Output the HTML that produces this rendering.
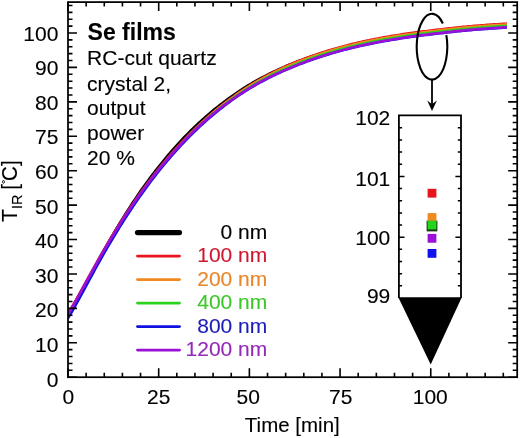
<!DOCTYPE html>
<html><head><meta charset="utf-8"><title>Se films T_IR vs time</title>
<style>html,body{margin:0;padding:0;background:#fff;width:520px;height:438px;overflow:hidden}svg{filter:blur(0.35px)}</style>
</head><body>
<svg width="520" height="438" viewBox="0 0 520 438" style="display:block">
<rect width="520" height="438" fill="#fff"/>
<defs><clipPath id="pc"><rect x="68.0" y="2.1" width="449.20000000000005" height="375.09999999999997"/></clipPath></defs>
<g clip-path="url(#pc)" fill="none" stroke-width="2.2" stroke-linejoin="round" stroke-linecap="butt">
<polyline stroke="#000000" stroke-width="2.2" points="68.00,315.38 69.81,312.49 71.63,309.42 73.44,306.23 75.25,302.98 77.07,299.68 78.88,296.34 80.70,292.98 82.51,289.61 84.32,286.23 86.14,282.85 87.95,279.42 89.77,276.00 91.58,272.59 93.39,269.19 95.21,265.80 97.02,262.44 98.83,259.09 100.65,255.76 102.46,252.45 104.28,249.17 106.09,245.98 107.90,242.81 109.72,239.68 111.53,236.56 113.34,233.48 115.16,230.42 116.97,227.39 118.78,224.39 120.60,221.42 122.41,218.48 124.23,215.57 126.04,212.69 127.85,209.84 129.67,207.01 131.48,204.22 133.30,201.46 135.11,198.74 136.92,196.04 138.74,193.37 140.55,190.73 142.36,188.16 144.18,185.61 145.99,183.10 147.81,180.61 149.62,178.16 151.43,175.73 153.25,173.34 155.06,170.98 156.87,168.64 158.69,166.34 160.50,164.06 162.31,161.82 164.13,159.60 165.94,157.41 167.76,155.25 169.57,153.12 171.38,151.02 173.20,148.94 175.01,146.90 176.82,144.88 178.64,142.90 180.45,140.95 182.27,139.03 184.08,137.13 185.89,135.26 187.71,133.42 189.52,131.60 191.33,129.81 193.15,128.04 194.96,126.30 196.78,124.59 198.59,122.89 200.40,121.23 202.22,119.58 204.03,117.96 205.84,116.36 207.66,114.79 209.47,113.24 211.29,111.71 213.10,110.21 214.91,108.72 216.73,107.26 218.54,105.82 220.35,104.41 222.17,103.01 223.98,101.63 225.80,100.28 227.61,98.94 229.42,97.63 231.24,96.33 233.05,95.06 234.87,93.80 236.68,92.56 238.49,91.34 240.31,90.13 242.12,88.95 243.93,87.79 245.75,86.64 247.56,85.51 249.38,84.40 251.19,83.33 253.00,82.29 254.82,81.26 256.63,80.24 258.44,79.25 260.26,78.27 262.07,77.30 263.88,76.35 265.70,75.42 267.51,74.50 269.33,73.60 271.14,72.71 272.95,71.84 274.77,70.98 276.58,70.13 278.39,69.30 280.21,68.49 282.02,67.68 283.84,66.89 285.65,66.12 287.46,65.37 289.28,64.64 291.09,63.92 292.90,63.22 294.72,62.49 296.53,61.78 298.35,61.08 300.16,60.39 301.97,59.71 303.79,59.04 305.60,58.39 307.41,57.74 309.23,57.11 311.04,56.49 312.86,55.88 314.67,55.27 316.48,54.68 318.30,54.10 320.11,53.53 321.92,52.97 323.74,52.42 325.55,51.88 327.37,51.35 329.18,50.82 330.99,50.31 332.81,49.80 334.62,49.31 336.44,48.82 338.25,48.34 340.06,47.87 341.88,47.41 343.69,46.95 345.50,46.51 347.32,46.07 349.13,45.64 350.94,45.22 352.76,44.80 354.57,44.40 356.39,44.00 358.20,43.60 360.01,43.21 361.83,42.83 363.64,42.45 365.45,42.08 367.27,41.71 369.08,41.35 370.90,41.00 372.71,40.65 374.52,40.32 376.34,39.98 378.15,39.66 379.96,39.33 381.78,39.02 383.59,38.71 385.41,38.40 387.22,38.11 389.03,37.81 390.85,37.53 392.66,37.24 394.48,36.97 396.29,36.70 398.10,36.43 399.92,36.17 401.73,35.91 403.54,35.66 405.36,35.41 407.17,35.17 408.99,34.93 410.80,34.70 412.61,34.47 414.43,34.24 416.24,34.02 418.05,33.81 419.87,33.59 421.68,33.39 423.50,33.18 425.31,32.98 427.12,32.78 428.94,32.59 430.75,32.40 432.56,32.17 434.38,31.95 436.19,31.72 438.00,31.50 439.82,31.28 441.63,31.07 443.45,30.86 445.26,30.65 447.07,30.45 448.89,30.25 450.70,30.05 452.51,29.86 454.33,29.67 456.14,29.48 457.96,29.29 459.77,29.11 461.58,28.93 463.40,28.75 465.21,28.58 467.02,28.41 468.84,28.24 470.65,28.07 472.47,27.91 474.28,27.75 476.09,27.60 477.91,27.46 479.72,27.32 481.53,27.19 483.35,27.05 485.16,26.92 486.98,26.79 488.79,26.66 490.60,26.53 492.42,26.41 494.23,26.29 496.05,26.17 497.86,26.05 499.67,25.94 501.49,25.82 503.30,25.71 505.11,25.60 506.93,25.49"/>
<polyline stroke="#e8141c" stroke-width="2.2" points="68.00,312.97 69.81,310.15 71.63,307.14 73.44,304.03 75.25,300.85 77.07,297.61 78.88,294.35 80.70,291.06 82.51,287.75 84.32,284.44 86.14,281.13 87.95,277.84 89.77,274.56 91.58,271.28 93.39,268.02 95.21,264.77 97.02,261.54 98.83,258.33 100.65,255.14 102.46,251.97 104.28,248.83 106.09,245.74 107.90,242.68 109.72,239.64 111.53,236.63 113.34,233.65 115.16,230.70 116.97,227.77 118.78,224.87 120.60,222.01 122.41,219.17 124.23,216.36 126.04,213.58 127.85,210.83 129.67,208.12 131.48,205.43 133.30,202.77 135.11,200.15 136.92,197.55 138.74,194.99 140.55,192.45 142.36,189.91 144.18,187.40 145.99,184.92 147.81,182.47 149.62,180.05 151.43,177.66 153.25,175.30 155.06,172.97 156.87,170.67 158.69,168.40 160.50,166.16 162.31,163.95 164.13,161.77 165.94,159.61 167.76,157.49 169.57,155.39 171.38,153.32 173.20,151.28 175.01,149.27 176.82,147.29 178.64,145.28 180.45,143.30 182.27,141.35 184.08,139.43 185.89,137.53 187.71,135.66 189.52,133.81 191.33,131.99 193.15,130.20 194.96,128.43 196.78,126.68 198.59,124.96 200.40,123.26 202.22,121.59 204.03,119.94 205.84,118.32 207.66,116.71 209.47,115.13 211.29,113.58 213.10,112.04 214.91,110.53 216.73,109.04 218.54,107.57 220.35,106.13 222.17,104.70 223.98,103.30 225.80,101.91 227.61,100.55 229.42,99.21 231.24,97.88 233.05,96.55 234.87,95.24 236.68,93.95 238.49,92.68 240.31,91.43 242.12,90.19 243.93,88.97 245.75,87.77 247.56,86.59 249.38,85.43 251.19,84.31 253.00,83.22 254.82,82.14 256.63,81.07 258.44,80.02 260.26,78.99 262.07,77.97 263.88,76.97 265.70,75.99 267.51,75.02 269.33,74.06 271.14,73.13 272.95,72.20 274.77,71.29 276.58,70.39 278.39,69.51 280.21,68.64 282.02,67.79 283.84,66.94 285.65,66.12 287.46,65.34 289.28,64.58 291.09,63.83 292.90,63.10 294.72,62.34 296.53,61.60 298.35,60.87 300.16,60.15 301.97,59.44 303.79,58.74 305.60,58.06 307.41,57.38 309.23,56.72 311.04,56.07 312.86,55.42 314.67,54.79 316.48,54.17 318.30,53.56 320.11,52.96 321.92,52.37 323.74,51.79 325.55,51.22 327.37,50.65 329.18,50.10 330.99,49.56 332.81,49.02 334.62,48.49 336.44,47.98 338.25,47.47 340.06,46.97 341.88,46.47 343.69,45.99 345.50,45.51 347.32,45.05 349.13,44.59 350.94,44.13 352.76,43.69 354.57,43.25 356.39,42.82 358.20,42.40 360.01,41.98 361.83,41.58 363.64,41.18 365.45,40.78 367.27,40.40 369.08,40.02 370.90,39.64 372.71,39.28 374.52,38.92 376.34,38.56 378.15,38.21 379.96,37.87 381.78,37.53 383.59,37.20 385.41,36.88 387.22,36.56 389.03,36.24 390.85,35.93 392.66,35.63 394.48,35.33 396.29,35.04 398.10,34.75 399.92,34.47 401.73,34.19 403.54,33.92 405.36,33.65 407.17,33.38 408.99,33.12 410.80,32.87 412.61,32.62 414.43,32.37 416.24,32.13 418.05,31.89 419.87,31.66 421.68,31.43 423.50,31.20 425.31,30.98 427.12,30.76 428.94,30.55 430.75,30.34 432.56,30.11 434.38,29.88 436.19,29.66 438.00,29.44 439.82,29.22 441.63,29.01 443.45,28.80 445.26,28.59 447.07,28.39 448.89,28.19 450.70,27.99 452.51,27.79 454.33,27.60 456.14,27.41 457.96,27.23 459.77,27.05 461.58,26.87 463.40,26.69 465.21,26.52 467.02,26.34 468.84,26.17 470.65,26.01 472.47,25.84 474.28,25.68 476.09,25.54 477.91,25.40 479.72,25.26 481.53,25.12 483.35,24.99 485.16,24.85 486.98,24.72 488.79,24.60 490.60,24.47 492.42,24.35 494.23,24.22 496.05,24.10 497.86,23.99 499.67,23.87 501.49,23.76 503.30,23.64 505.11,23.53 506.93,23.43"/>
<polyline stroke="#f08a1e" stroke-width="2.2" points="68.00,314.69 69.81,311.87 71.63,308.87 73.44,305.75 75.25,302.57 77.07,299.33 78.88,296.07 80.70,292.78 82.51,289.47 84.32,286.16 86.14,282.85 87.95,279.53 89.77,276.21 91.58,272.90 93.39,269.60 95.21,266.32 97.02,263.06 98.83,259.81 100.65,256.59 102.46,253.38 104.28,250.20 106.09,247.10 107.90,244.02 109.72,240.97 111.53,237.94 113.34,234.94 115.16,231.97 116.97,229.03 118.78,226.11 120.60,223.23 122.41,220.37 124.23,217.55 126.04,214.75 127.85,211.99 129.67,209.25 131.48,206.55 133.30,203.87 135.11,201.23 136.92,198.62 138.74,196.04 140.55,193.49 142.36,190.94 144.18,188.43 145.99,185.95 147.81,183.50 149.62,181.08 151.43,178.69 153.25,176.33 155.06,174.00 156.87,171.70 158.69,169.43 160.50,167.19 162.31,164.98 164.13,162.80 165.94,160.65 167.76,158.52 169.57,156.42 171.38,154.36 173.20,152.32 175.01,150.30 176.82,148.32 178.64,146.30 180.45,144.30 182.27,142.33 184.08,140.39 185.89,138.48 187.71,136.59 189.52,134.72 191.33,132.89 193.15,131.07 194.96,129.29 196.78,127.52 198.59,125.78 200.40,124.07 202.22,122.38 204.03,120.72 205.84,119.07 207.66,117.45 209.47,115.86 211.29,114.28 213.10,112.73 214.91,111.20 216.73,109.70 218.54,108.21 220.35,106.75 222.17,105.30 223.98,103.88 225.80,102.48 227.61,101.10 229.42,99.74 231.24,98.40 233.05,97.08 234.87,95.78 236.68,94.50 238.49,93.24 240.31,92.00 242.12,90.78 243.93,89.57 245.75,88.38 247.56,87.21 249.38,86.06 251.19,84.96 253.00,83.87 254.82,82.80 256.63,81.75 258.44,80.71 260.26,79.69 262.07,78.69 263.88,77.70 265.70,76.72 267.51,75.77 269.33,74.82 271.14,73.89 272.95,72.98 274.77,72.08 276.58,71.20 278.39,70.32 280.21,69.47 282.02,68.62 283.84,67.79 285.65,66.98 287.46,66.20 289.28,65.44 291.09,64.69 292.90,63.96 294.72,63.20 296.53,62.46 298.35,61.73 300.16,61.01 301.97,60.30 303.79,59.60 305.60,58.92 307.41,58.24 309.23,57.58 311.04,56.93 312.86,56.28 314.67,55.65 316.48,55.03 318.30,54.42 320.11,53.82 321.92,53.23 323.74,52.65 325.55,52.08 327.37,51.51 329.18,50.96 330.99,50.42 332.81,49.88 334.62,49.35 336.44,48.84 338.25,48.33 340.06,47.83 341.88,47.34 343.69,46.85 345.50,46.38 347.32,45.91 349.13,45.45 350.94,44.99 352.76,44.55 354.57,44.11 356.39,43.68 358.20,43.26 360.01,42.85 361.83,42.44 363.64,42.04 365.45,41.65 367.27,41.26 369.08,40.88 370.90,40.51 372.71,40.14 374.52,39.78 376.34,39.42 378.15,39.07 379.96,38.73 381.78,38.39 383.59,38.06 385.41,37.74 387.22,37.42 389.03,37.10 390.85,36.79 392.66,36.49 394.48,36.19 396.29,35.90 398.10,35.61 399.92,35.33 401.73,35.05 403.54,34.78 405.36,34.51 407.17,34.24 408.99,33.98 410.80,33.73 412.61,33.48 414.43,33.23 416.24,32.99 418.05,32.75 419.87,32.52 421.68,32.29 423.50,32.06 425.31,31.84 427.12,31.62 428.94,31.41 430.75,31.20 432.56,30.97 434.38,30.74 436.19,30.52 438.00,30.30 439.82,30.08 441.63,29.87 443.45,29.66 445.26,29.45 447.07,29.25 448.89,29.05 450.70,28.85 452.51,28.65 454.33,28.46 456.14,28.27 457.96,28.09 459.77,27.91 461.58,27.73 463.40,27.55 465.21,27.38 467.02,27.20 468.84,27.04 470.65,26.87 472.47,26.70 474.28,26.54 476.09,26.40 477.91,26.26 479.72,26.12 481.53,25.98 483.35,25.85 485.16,25.71 486.98,25.58 488.79,25.46 490.60,25.33 492.42,25.21 494.23,25.08 496.05,24.96 497.86,24.85 499.67,24.73 501.49,24.62 503.30,24.50 505.11,24.39 506.93,24.29"/>
<polyline stroke="#2ed21e" stroke-width="2.2" points="68.00,314.69 69.81,311.87 71.63,308.87 73.44,305.75 75.25,302.57 77.07,299.33 78.88,296.07 80.70,292.78 82.51,289.47 84.32,286.16 86.14,282.85 87.95,279.53 89.77,276.21 91.58,272.90 93.39,269.60 95.21,266.32 97.02,263.06 98.83,259.81 100.65,256.59 102.46,253.38 104.28,250.20 106.09,247.12 107.90,244.05 109.72,241.02 111.53,238.01 113.34,235.03 115.16,232.07 116.97,229.15 118.78,226.25 120.60,223.38 122.41,220.54 124.23,217.74 126.04,214.96 127.85,212.21 129.67,209.49 131.48,206.81 133.30,204.15 135.11,201.52 136.92,198.93 138.74,196.36 140.55,193.83 142.36,191.29 144.18,188.78 145.99,186.30 147.81,183.85 149.62,181.43 151.43,179.04 153.25,176.68 155.06,174.35 156.87,172.05 158.69,169.78 160.50,167.54 162.31,165.33 164.13,163.14 165.94,160.99 167.76,158.87 169.57,156.77 171.38,154.70 173.20,152.66 175.01,150.65 176.82,148.66 178.64,146.66 180.45,144.68 182.27,142.73 184.08,140.80 185.89,138.91 187.71,137.03 189.52,135.19 191.33,133.37 193.15,131.57 194.96,129.80 196.78,128.06 198.59,126.34 200.40,124.64 202.22,122.97 204.03,121.32 205.84,119.69 207.66,118.09 209.47,116.51 211.29,114.95 213.10,113.42 214.91,111.91 216.73,110.42 218.54,108.95 220.35,107.50 222.17,106.08 223.98,104.67 225.80,103.29 227.61,101.93 229.42,100.58 231.24,99.26 233.05,97.95 234.87,96.67 236.68,95.40 238.49,94.15 240.31,92.92 242.12,91.70 243.93,90.51 245.75,89.33 247.56,88.18 249.38,87.04 251.19,85.94 253.00,84.87 254.82,83.81 256.63,82.77 258.44,81.74 260.26,80.73 262.07,79.74 263.88,78.76 265.70,77.80 267.51,76.86 269.33,75.92 271.14,75.01 272.95,74.10 274.77,73.22 276.58,72.34 278.39,71.48 280.21,70.64 282.02,69.81 283.84,68.99 285.65,68.18 287.46,67.41 289.28,66.65 291.09,65.91 292.90,65.18 294.72,64.43 296.53,63.69 298.35,62.96 300.16,62.25 301.97,61.54 303.79,60.85 305.60,60.17 307.41,59.50 309.23,58.84 311.04,58.19 312.86,57.55 314.67,56.93 316.48,56.31 318.30,55.70 320.11,55.11 321.92,54.52 323.74,53.94 325.55,53.37 327.37,52.82 329.18,52.27 330.99,51.73 332.81,51.20 334.62,50.68 336.44,50.16 338.25,49.66 340.06,49.16 341.88,48.67 343.69,48.19 345.50,47.72 347.32,47.26 349.13,46.80 350.94,46.35 352.76,45.91 354.57,45.48 356.39,45.05 358.20,44.64 360.01,44.22 361.83,43.82 363.64,43.42 365.45,43.02 367.27,42.64 369.08,42.26 370.90,41.88 372.71,41.52 374.52,41.15 376.34,40.80 378.15,40.45 379.96,40.11 381.78,39.77 383.59,39.44 385.41,39.11 387.22,38.80 389.03,38.48 390.85,38.17 392.66,37.87 394.48,37.57 396.29,37.28 398.10,36.99 399.92,36.70 401.73,36.43 403.54,36.15 405.36,35.88 407.17,35.62 408.99,35.36 410.80,35.11 412.61,34.85 414.43,34.61 416.24,34.37 418.05,34.13 419.87,33.89 421.68,33.67 423.50,33.44 425.31,33.22 427.12,33.00 428.94,32.79 430.75,32.58 432.56,32.34 434.38,32.12 436.19,31.89 438.00,31.67 439.82,31.46 441.63,31.24 443.45,31.03 445.26,30.83 447.07,30.62 448.89,30.42 450.70,30.23 452.51,30.03 454.33,29.84 456.14,29.65 457.96,29.47 459.77,29.28 461.58,29.10 463.40,28.93 465.21,28.75 467.02,28.58 468.84,28.41 470.65,28.25 472.47,28.08 474.28,27.92 476.09,27.78 477.91,27.63 479.72,27.50 481.53,27.36 483.35,27.22 485.16,27.09 486.98,26.96 488.79,26.83 490.60,26.71 492.42,26.58 494.23,26.46 496.05,26.34 497.86,26.22 499.67,26.11 501.49,25.99 503.30,25.88 505.11,25.77 506.93,25.66"/>
<polyline stroke="#1010e0" stroke-width="2.2" points="68.00,318.47 69.81,315.62 71.63,312.58 73.44,309.43 75.25,306.22 77.07,302.95 78.88,299.65 80.70,296.32 82.51,292.99 84.32,289.64 86.14,286.30 87.95,282.93 89.77,279.58 91.58,276.24 93.39,272.91 95.21,269.59 97.02,266.29 98.83,263.01 100.65,259.75 102.46,256.51 104.28,253.30 106.09,250.16 107.90,247.05 109.72,243.96 111.53,240.90 113.34,237.87 115.16,234.86 116.97,231.88 118.78,228.93 120.60,226.02 122.41,223.13 124.23,220.27 126.04,217.44 127.85,214.64 129.67,211.87 131.48,209.13 133.30,206.42 135.11,203.74 136.92,201.10 138.74,198.48 140.55,195.90 142.36,193.33 144.18,190.79 145.99,188.29 147.81,185.81 149.62,183.36 151.43,180.95 153.25,178.56 155.06,176.21 156.87,173.88 158.69,171.59 160.50,169.32 162.31,167.08 164.13,164.87 165.94,162.69 167.76,160.54 169.57,158.42 171.38,156.33 173.20,154.26 175.01,152.22 176.82,150.21 178.64,148.21 180.45,146.24 182.27,144.30 184.08,142.38 185.89,140.48 187.71,138.62 189.52,136.78 191.33,134.96 193.15,133.17 194.96,131.41 196.78,129.67 198.59,127.95 200.40,126.26 202.22,124.60 204.03,122.95 205.84,121.33 207.66,119.74 209.47,118.16 211.29,116.61 213.10,115.08 214.91,113.58 216.73,112.09 218.54,110.63 220.35,109.19 222.17,107.77 223.98,106.37 225.80,104.99 227.61,103.64 229.42,102.30 231.24,100.98 233.05,99.68 234.87,98.41 236.68,97.15 238.49,95.91 240.31,94.70 242.12,93.49 243.93,92.31 245.75,91.15 247.56,90.00 249.38,88.87 251.19,87.79 253.00,86.73 254.82,85.68 256.63,84.65 258.44,83.64 260.26,82.64 262.07,81.66 263.88,80.69 265.70,79.74 267.51,78.81 269.33,77.89 271.14,76.98 272.95,76.09 274.77,75.21 276.58,74.35 278.39,73.50 280.21,72.67 282.02,71.85 283.84,71.04 285.65,70.25 287.46,69.48 289.28,68.72 291.09,67.98 292.90,67.24 294.72,66.49 296.53,65.75 298.35,65.03 300.16,64.31 301.97,63.61 303.79,62.91 305.60,62.23 307.41,61.56 309.23,60.90 311.04,60.26 312.86,59.62 314.67,58.99 316.48,58.37 318.30,57.77 320.11,57.17 321.92,56.58 323.74,56.01 325.55,55.44 327.37,54.88 329.18,54.33 330.99,53.79 332.81,53.26 334.62,52.74 336.44,52.23 338.25,51.72 340.06,51.23 341.88,50.74 343.69,50.26 345.50,49.79 347.32,49.32 349.13,48.87 350.94,48.42 352.76,47.98 354.57,47.55 356.39,47.12 358.20,46.70 360.01,46.29 361.83,45.88 363.64,45.48 365.45,45.09 367.27,44.70 369.08,44.32 370.90,43.95 372.71,43.58 374.52,43.22 376.34,42.86 378.15,42.52 379.96,42.17 381.78,41.84 383.59,41.51 385.41,41.18 387.22,40.86 389.03,40.55 390.85,40.24 392.66,39.93 394.48,39.63 396.29,39.34 398.10,39.05 399.92,38.77 401.73,38.49 403.54,38.22 405.36,37.95 407.17,37.69 408.99,37.43 410.80,37.17 412.61,36.92 414.43,36.67 416.24,36.43 418.05,36.19 419.87,35.96 421.68,35.73 423.50,35.50 425.31,35.28 427.12,35.07 428.94,34.85 430.75,34.64 432.56,34.41 434.38,34.18 436.19,33.96 438.00,33.74 439.82,33.52 441.63,33.31 443.45,33.10 445.26,32.89 447.07,32.69 448.89,32.49 450.70,32.29 452.51,32.10 454.33,31.90 456.14,31.72 457.96,31.53 459.77,31.35 461.58,31.17 463.40,30.99 465.21,30.82 467.02,30.65 468.84,30.48 470.65,30.31 472.47,30.15 474.28,29.99 476.09,29.84 477.91,29.70 479.72,29.56 481.53,29.42 483.35,29.29 485.16,29.16 486.98,29.03 488.79,28.90 490.60,28.77 492.42,28.65 494.23,28.53 496.05,28.41 497.86,28.29 499.67,28.17 501.49,28.06 503.30,27.95 505.11,27.84 506.93,27.73"/>
<polyline stroke="#9a10d8" stroke-width="2.7" points="68.00,314.00 69.81,311.18 71.63,308.18 73.44,305.06 75.25,301.88 77.07,298.65 78.88,295.38 80.70,292.09 82.51,288.79 84.32,285.48 86.14,282.16 87.95,278.87 89.77,275.59 91.58,272.31 93.39,269.05 95.21,265.80 97.02,262.57 98.83,259.36 100.65,256.17 102.46,253.00 104.28,249.86 106.09,246.77 107.90,243.71 109.72,240.67 111.53,237.66 113.34,234.68 115.16,231.73 116.97,228.80 118.78,225.91 120.60,223.04 122.41,220.20 124.23,217.39 126.04,214.61 127.85,211.87 129.67,209.15 131.48,206.46 133.30,203.81 135.11,201.18 136.92,198.58 138.74,196.02 140.55,193.49 142.36,190.96 144.18,188.47 145.99,186.00 147.81,183.57 149.62,181.17 151.43,178.80 153.25,176.45 155.06,174.14 156.87,171.86 158.69,169.61 160.50,167.38 162.31,165.19 164.13,163.02 165.94,160.89 167.76,158.78 169.57,156.70 171.38,154.65 173.20,152.63 175.01,150.63 176.82,148.66 178.64,146.69 180.45,144.74 182.27,142.81 184.08,140.92 185.89,139.05 187.71,137.21 189.52,135.39 191.33,133.60 193.15,131.83 194.96,130.09 196.78,128.37 198.59,126.68 200.40,125.01 202.22,123.37 204.03,121.75 205.84,120.15 207.66,118.58 209.47,117.03 211.29,115.50 213.10,113.99 214.91,112.51 216.73,111.05 218.54,109.61 220.35,108.19 222.17,106.80 223.98,105.42 225.80,104.06 227.61,102.73 229.42,101.41 231.24,100.12 233.05,98.84 234.87,97.57 236.68,96.33 238.49,95.10 240.31,93.89 242.12,92.70 243.93,91.53 245.75,90.38 247.56,89.24 249.38,88.13 251.19,87.06 253.00,86.00 254.82,84.97 256.63,83.95 258.44,82.95 260.26,81.96 262.07,80.99 263.88,80.04 265.70,79.10 267.51,78.17 269.33,77.27 271.14,76.37 272.95,75.49 274.77,74.63 276.58,73.78 278.39,72.94 280.21,72.12 282.02,71.31 283.84,70.51 285.65,69.73 287.46,68.96 289.28,68.20 291.09,67.46 292.90,66.73 294.72,65.98 296.53,65.24 298.35,64.51 300.16,63.79 301.97,63.09 303.79,62.40 305.60,61.72 307.41,61.05 309.23,60.39 311.04,59.74 312.86,59.10 314.67,58.48 316.48,57.86 318.30,57.25 320.11,56.66 321.92,56.07 323.74,55.49 325.55,54.92 327.37,54.37 329.18,53.82 330.99,53.28 332.81,52.75 334.62,52.22 336.44,51.71 338.25,51.21 340.06,50.71 341.88,50.22 343.69,49.74 345.50,49.27 347.32,48.81 349.13,48.35 350.94,47.90 352.76,47.46 354.57,47.03 356.39,46.60 358.20,46.18 360.01,45.77 361.83,45.36 363.64,44.96 365.45,44.57 367.27,44.18 369.08,43.80 370.90,43.43 372.71,43.06 374.52,42.70 376.34,42.35 378.15,42.00 379.96,41.66 381.78,41.32 383.59,40.99 385.41,40.66 387.22,40.34 389.03,40.03 390.85,39.72 392.66,39.42 394.48,39.12 396.29,38.83 398.10,38.54 399.92,38.25 401.73,37.98 403.54,37.70 405.36,37.43 407.17,37.17 408.99,36.91 410.80,36.65 412.61,36.40 414.43,36.16 416.24,35.92 418.05,35.68 419.87,35.44 421.68,35.21 423.50,34.99 425.31,34.77 427.12,34.55 428.94,34.33 430.75,34.12 432.56,33.89 434.38,33.67 436.19,33.44 438.00,33.22 439.82,33.01 441.63,32.79 443.45,32.58 445.26,32.38 447.07,32.17 448.89,31.97 450.70,31.77 452.51,31.58 454.33,31.39 456.14,31.20 457.96,31.01 459.77,30.83 461.58,30.65 463.40,30.48 465.21,30.30 467.02,30.13 468.84,29.96 470.65,29.79 472.47,29.63 474.28,29.47 476.09,29.33 477.91,29.18 479.72,29.04 481.53,28.91 483.35,28.77 485.16,28.64 486.98,28.51 488.79,28.38 490.60,28.26 492.42,28.13 494.23,28.01 496.05,27.89 497.86,27.77 499.67,27.66 501.49,27.54 503.30,27.43 505.11,27.32 506.93,27.21"/>
</g>
<path d="M68.0,377.20h9M517.2,377.20h-9M68.0,370.32h4.5M517.2,370.32h-4.5M68.0,363.43h4.5M517.2,363.43h-4.5M68.0,356.55h4.5M517.2,356.55h-4.5M68.0,349.66h4.5M517.2,349.66h-4.5M68.0,342.78h9M517.2,342.78h-9M68.0,335.90h4.5M517.2,335.90h-4.5M68.0,329.01h4.5M517.2,329.01h-4.5M68.0,322.13h4.5M517.2,322.13h-4.5M68.0,315.24h4.5M517.2,315.24h-4.5M68.0,308.36h9M517.2,308.36h-9M68.0,301.48h4.5M517.2,301.48h-4.5M68.0,294.59h4.5M517.2,294.59h-4.5M68.0,287.71h4.5M517.2,287.71h-4.5M68.0,280.82h4.5M517.2,280.82h-4.5M68.0,273.94h9M517.2,273.94h-9M68.0,267.06h4.5M517.2,267.06h-4.5M68.0,260.17h4.5M517.2,260.17h-4.5M68.0,253.29h4.5M517.2,253.29h-4.5M68.0,246.40h4.5M517.2,246.40h-4.5M68.0,239.52h9M517.2,239.52h-9M68.0,232.64h4.5M517.2,232.64h-4.5M68.0,225.75h4.5M517.2,225.75h-4.5M68.0,218.87h4.5M517.2,218.87h-4.5M68.0,211.98h4.5M517.2,211.98h-4.5M68.0,205.10h9M517.2,205.10h-9M68.0,198.22h4.5M517.2,198.22h-4.5M68.0,191.33h4.5M517.2,191.33h-4.5M68.0,184.45h4.5M517.2,184.45h-4.5M68.0,177.56h4.5M517.2,177.56h-4.5M68.0,170.68h9M517.2,170.68h-9M68.0,163.80h4.5M517.2,163.80h-4.5M68.0,156.91h4.5M517.2,156.91h-4.5M68.0,150.03h4.5M517.2,150.03h-4.5M68.0,143.14h4.5M517.2,143.14h-4.5M68.0,136.26h9M517.2,136.26h-9M68.0,129.38h4.5M517.2,129.38h-4.5M68.0,122.49h4.5M517.2,122.49h-4.5M68.0,115.61h4.5M517.2,115.61h-4.5M68.0,108.72h4.5M517.2,108.72h-4.5M68.0,101.84h9M517.2,101.84h-9M68.0,94.96h4.5M517.2,94.96h-4.5M68.0,88.07h4.5M517.2,88.07h-4.5M68.0,81.19h4.5M517.2,81.19h-4.5M68.0,74.30h4.5M517.2,74.30h-4.5M68.0,67.42h9M517.2,67.42h-9M68.0,60.54h4.5M517.2,60.54h-4.5M68.0,53.65h4.5M517.2,53.65h-4.5M68.0,46.77h4.5M517.2,46.77h-4.5M68.0,39.88h4.5M517.2,39.88h-4.5M68.0,33.00h9M517.2,33.00h-9M68.0,26.12h4.5M517.2,26.12h-4.5M68.0,19.23h4.5M517.2,19.23h-4.5M68.0,12.35h4.5M517.2,12.35h-4.5M68.0,5.46h4.5M517.2,5.46h-4.5M68.00,377.2v-9M68.00,2.1v9M86.14,377.2v-4.5M86.14,2.1v4.5M104.28,377.2v-4.5M104.28,2.1v4.5M122.41,377.2v-4.5M122.41,2.1v4.5M140.55,377.2v-4.5M140.55,2.1v4.5M158.69,377.2v-9M158.69,2.1v9M176.82,377.2v-4.5M176.82,2.1v4.5M194.96,377.2v-4.5M194.96,2.1v4.5M213.10,377.2v-4.5M213.10,2.1v4.5M231.24,377.2v-4.5M231.24,2.1v4.5M249.38,377.2v-9M249.38,2.1v9M267.51,377.2v-4.5M267.51,2.1v4.5M285.65,377.2v-4.5M285.65,2.1v4.5M303.79,377.2v-4.5M303.79,2.1v4.5M321.92,377.2v-4.5M321.92,2.1v4.5M340.06,377.2v-9M340.06,2.1v9M358.20,377.2v-4.5M358.20,2.1v4.5M376.34,377.2v-4.5M376.34,2.1v4.5M394.48,377.2v-4.5M394.48,2.1v4.5M412.61,377.2v-4.5M412.61,2.1v4.5M430.75,377.2v-9M430.75,2.1v9M448.89,377.2v-4.5M448.89,2.1v4.5M467.02,377.2v-4.5M467.02,2.1v4.5M485.16,377.2v-4.5M485.16,2.1v4.5M503.30,377.2v-4.5M503.30,2.1v4.5" stroke="#000" stroke-width="1.6" fill="none"/>
<rect x="68.0" y="2.1" width="449.20000000000005" height="375.09999999999997" fill="none" stroke="#000" stroke-width="1.75"/>
<g font-family="'Liberation Sans', Arial, Helvetica, sans-serif" font-size="21" fill="#000" stroke="#000" stroke-width="0.12">
<text x="58.4" y="386.50" text-anchor="end">0</text>
<text x="58.4" y="351.91" text-anchor="end">10</text>
<text x="58.4" y="317.32" text-anchor="end">20</text>
<text x="58.4" y="282.73" text-anchor="end">30</text>
<text x="58.4" y="248.14" text-anchor="end">40</text>
<text x="58.4" y="213.55" text-anchor="end">50</text>
<text x="58.4" y="178.96" text-anchor="end">60</text>
<text x="58.4" y="144.37" text-anchor="end">75</text>
<text x="58.4" y="109.78" text-anchor="end">80</text>
<text x="58.4" y="75.19" text-anchor="end">90</text>
<text x="58.4" y="40.60" text-anchor="end">100</text>
<text x="68.30" y="404.4" text-anchor="middle">0</text>
<text x="158.69" y="404.4" text-anchor="middle">25</text>
<text x="248.18" y="404.4" text-anchor="middle">50</text>
<text x="340.66" y="404.4" text-anchor="middle">75</text>
<text x="430.25" y="404.4" text-anchor="middle">100</text>
<text x="292.3" y="432.2" text-anchor="middle" font-size="20.5">Time [min]</text>
<text transform="translate(16.9,221.9) rotate(-90) scale(1,1.05)" font-size="21.2">T<tspan font-size="14.6" dy="5.0">IR</tspan><tspan dy="-5.0" dx="-1.2" font-size="20.6"> [</tspan><tspan font-size="13" dy="-4.2" dx="0.3">˚</tspan><tspan dy="4.2" dx="-1.5" font-size="20.6">C]</tspan></text>
</g>
<g font-family="'Liberation Sans', Arial, Helvetica, sans-serif" font-size="21" fill="#000" stroke="#000" stroke-width="0.12">
<text x="87.6" y="39.8" font-weight="bold" font-size="23">Se films</text>
<text x="87.1" y="64.6" font-size="21">RC-cut quartz</text>
<text x="87.1" y="90.8" font-size="21">crystal 2,</text>
<text x="87.1" y="115.4" font-size="21">output</text>
<text x="87.1" y="140.2" font-size="21">power</text>
<text x="87.1" y="165.0" font-size="21">20 %</text>
</g>
<g font-family="'Liberation Sans', Arial, Helvetica, sans-serif" font-size="21" stroke-width="0.12">
<line x1="137.5" y1="232.6" x2="179.5" y2="232.6" stroke="#000" stroke-width="5.2" stroke-linecap="round"/>
<text x="267.3" y="238.9" text-anchor="end" font-size="21" fill="#000" stroke="#000">0 nm</text>
<line x1="137.5" y1="256.1" x2="179.5" y2="256.1" stroke="#e8141c" stroke-width="2.9" stroke-linecap="round"/>
<text x="267.3" y="262.4" text-anchor="end" font-size="21" fill="#cf1830" stroke="#cf1830">100 nm</text>
<line x1="137.5" y1="279.6" x2="179.5" y2="279.6" stroke="#f08a1e" stroke-width="2.9" stroke-linecap="round"/>
<text x="267.3" y="285.9" text-anchor="end" font-size="21" fill="#e8862a" stroke="#e8862a">200 nm</text>
<line x1="137.5" y1="303.1" x2="179.5" y2="303.1" stroke="#2ed21e" stroke-width="2.9" stroke-linecap="round"/>
<text x="267.3" y="309.4" text-anchor="end" font-size="21" fill="#3cc82a" stroke="#3cc82a">400 nm</text>
<line x1="137.5" y1="326.6" x2="179.5" y2="326.6" stroke="#1010e0" stroke-width="2.9" stroke-linecap="round"/>
<text x="267.3" y="332.9" text-anchor="end" font-size="21" fill="#1c1cb8" stroke="#1c1cb8">800 nm</text>
<line x1="137.5" y1="350.1" x2="179.5" y2="350.1" stroke="#9a10d8" stroke-width="2.9" stroke-linecap="round"/>
<text x="267.3" y="356.4" text-anchor="end" font-size="21" fill="#9428b8" stroke="#9428b8">1200 nm</text>
</g>
<path d="M398.9,285.84h3.2M461.0,285.84h-3.2M398.9,273.68h3.2M461.0,273.68h-3.2M398.9,261.52h3.2M461.0,261.52h-3.2M398.9,249.36h3.2M461.0,249.36h-3.2M398.9,237.20h5.6M461.0,237.20h-5.6M398.9,225.04h3.2M461.0,225.04h-3.2M398.9,212.88h3.2M461.0,212.88h-3.2M398.9,200.72h3.2M461.0,200.72h-3.2M398.9,188.56h3.2M461.0,188.56h-3.2M398.9,176.40h5.6M461.0,176.40h-5.6M398.9,164.24h3.2M461.0,164.24h-3.2M398.9,152.08h3.2M461.0,152.08h-3.2M398.9,139.92h3.2M461.0,139.92h-3.2M398.9,127.76h3.2M461.0,127.76h-3.2" stroke="#000" stroke-width="1.5" fill="none"/>
<path d="M398.9,298.0V115.3H461.0V298.0" stroke="#000" stroke-width="1.8" fill="none"/>
<g font-family="'Liberation Sans', Arial, Helvetica, sans-serif" font-size="21" fill="#000" stroke="#000" stroke-width="0.12">
<text x="390.3" y="124.8" text-anchor="end">102</text>
<text x="390.3" y="185.6" text-anchor="end">101</text>
<text x="390.3" y="244.8" text-anchor="end">100</text>
<text x="390.3" y="302.9" text-anchor="end">99</text>
</g>
<rect x="426.60" y="220.60" width="10.8" height="10.8" fill="#173a12"/>
<rect x="427.60" y="188.80" width="8.8" height="8.8" fill="#e8141c"/>
<rect x="427.60" y="213.10" width="8.8" height="8.8" fill="#f08a1e"/>
<rect x="427.60" y="220.60" width="8.8" height="8.8" fill="#22d41a"/>
<rect x="427.60" y="233.90" width="8.8" height="8.8" fill="#9a10d8"/>
<rect x="427.60" y="249.00" width="8.8" height="8.8" fill="#1010f0"/>
<polygon points="398.3,297.2 461.8,297.2 430.7,364.5" fill="#000"/>
<path d="M446.33,35.18A15.3,32.9 0 0 1 418.75,63.15A15.3,32.9 0 0 1 442.82,23.44" fill="none" stroke="#000" stroke-width="2.1"/>
<line x1="432" y1="79.6" x2="432" y2="104" stroke="#000" stroke-width="1.8"/>
<polygon points="427.2,100.6 432,111 436.9,100.6 432,104.2" fill="#000"/>
</svg>
</body></html>
